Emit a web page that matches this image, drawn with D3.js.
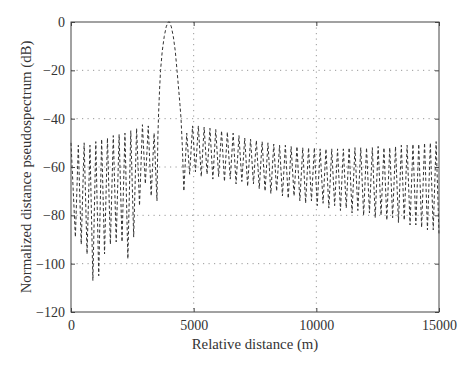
<!DOCTYPE html>
<html>
<head>
<meta charset="utf-8">
<script src="https://cdn.jsdelivr.net/npm/d3@7"></script>
<style>
  body { margin: 0; background: #fff; }
  svg { display: block; font-family: "Liberation Serif", "Times New Roman", serif; }
  .tick text { font-size: 14px; fill: #333; }
  .tick line { stroke: #444; }
  .grid line { stroke: #999; stroke-width: 1; stroke-dasharray: 1.2,4.3; }
  .frame { fill: none; stroke: #444; stroke-width: 1; }
  .trace { fill: none; stroke: #333; stroke-width: 1; stroke-dasharray: 3.2,2.4; }
  .axis-title { font-size: 14.8px; fill: #333; }
</style>
</head>
<body>
<div id="chart"></div>
<script>
// sidelobes left of the target (distance m, level dB), peaks and nulls in order
const leftDistance = [0, 179, 298, 417, 536, 654, 773, 892, 1011, 1130, 1249, 1367, 1486, 1605,
  1724, 1842, 1961, 2080, 2199, 2318, 2437, 2555, 2674, 2793, 2912, 3030, 3149, 3268, 3387];
const leftLevel = [-50, -89, -51, -92, -50, -96, -51, -107, -49.5, -105, -48.5, -96, -48, -92,
  -47, -91, -46.5, -91, -46, -98, -45, -89, -44, -76, -42.5, -67, -43, -72, -46];

// main lobe
const mainDistance = [3505, 3540, 3570, 3610, 3650, 3720, 3800, 3880, 3960, 4020, 4090, 4170,
  4250, 4321, 4390, 4440, 4485, 4540, 4600];
const mainLevel = [-74, -48, -38, -28, -20, -12, -6, -2, 0, 0, -2, -6,
  -12, -20, -28, -34, -40, -52, -70];

// sidelobes right of the target
const rightDistance = [4718, 4836, 4955, 5073, 5191, 5309, 5427, 5546, 5664, 5782, 5900, 6018,
  6137, 6255, 6373, 6491, 6609, 6728, 6846, 6964, 7082, 7200, 7319, 7437, 7555, 7673, 7791, 7910,
  8028, 8146, 8264, 8382, 8501, 8619, 8737, 8855, 8973, 9092, 9210, 9328, 9446, 9564, 9683, 9801,
  9919, 10037, 10155, 10274, 10392, 10510, 10628, 10746, 10865, 10983, 11101, 11219, 11337, 11456,
  11574, 11692, 11810, 11928, 12046, 12165, 12283, 12401, 12519, 12638, 12756, 12874, 12992, 13110,
  13228, 13347, 13465, 13583, 13701, 13820, 13938, 14056, 14174, 14292, 14411, 14529, 14647, 14765,
  14883, 15000];
const rightLevel = [-46, -63, -43, -62, -43, -64, -43.5, -63, -44, -65, -44.5, -64,
  -45, -66, -45.5, -65, -46, -67, -47, -66, -48, -68, -48.5, -67, -49, -69, -49.5, -70,
  -50, -71, -50.5, -70, -51, -72, -51, -73, -51.5, -72, -51.5, -74, -52, -75, -52, -74,
  -52, -76, -52.5, -75, -52.5, -77, -52.5, -76, -52.5, -78, -52.5, -77, -52, -79,
  -52, -78, -52, -80, -52, -79, -52, -81, -51.5, -80, -52, -82, -52, -81,
  -51.5, -83, -51, -82, -51, -84, -50.5, -84, -50.5, -85, -50, -86, -50, -86,
  -49.5, -88];

const xTicks = [0, 5000, 10000, 15000];
const yTicks = [0, -20, -40, -60, -80, -100, -120];

const width = 474;
const height = 368;
const margin = { top: 22, right: 35, bottom: 56, left: 71 };
const innerWidth = width - margin.left - margin.right;
const innerHeight = height - margin.top - margin.bottom;

const points = [
  ...leftDistance.map((d, i) => ({ x: d, y: leftLevel[i] })),
  ...mainDistance.map((d, i) => ({ x: d, y: mainLevel[i] })),
  ...rightDistance.map((d, i) => ({ x: d, y: rightLevel[i] }))
];

const svg = d3.select("#chart")
  .append("svg")
  .attr("width", width)
  .attr("height", height);

const g = svg.append("g").attr("transform", `translate(${margin.left},${margin.top})`);

const x = d3.scaleLinear().domain([0, 15000]).range([0, innerWidth]);
const y = d3.scaleLinear().domain([-120, 0]).range([innerHeight, 0]);

// dotted grid
g.append("g").attr("class", "grid")
  .selectAll("line")
  .data(xTicks.slice(1, -1))
  .join("line")
  .attr("x1", d => x(d)).attr("x2", d => x(d))
  .attr("y1", 0).attr("y2", innerHeight);

g.append("g").attr("class", "grid")
  .selectAll("line")
  .data(yTicks.slice(1, -1))
  .join("line")
  .attr("x1", 0).attr("x2", innerWidth)
  .attr("y1", d => y(d)).attr("y2", d => y(d));

// the trace
const line = d3.line().x(d => x(d.x)).y(d => y(d.y));
g.append("path").attr("class", "trace").attr("d", line(points));

// axes with inward ticks on all four sides
const bottomAxis = g.append("g")
  .attr("transform", `translate(0,${innerHeight})`)
  .call(d3.axisBottom(x).tickValues(xTicks).tickFormat(d3.format("d")).tickSize(-4).tickPadding(8));
const leftAxis = g.append("g")
  .call(d3.axisLeft(y).tickValues(yTicks).tickSize(-4).tickPadding(6));
const topAxis = g.append("g")
  .call(d3.axisTop(x).tickValues(xTicks).tickSize(-4));
const rightAxis = g.append("g")
  .attr("transform", `translate(${innerWidth},0)`)
  .call(d3.axisRight(y).tickValues(yTicks).tickSize(-4));

topAxis.selectAll("text").remove();
rightAxis.selectAll("text").remove();

[bottomAxis, leftAxis, topAxis, rightAxis].forEach(a => {
  a.select(".domain").remove();
  a.attr("font-family", null).attr("font-size", null);
});

g.append("rect").attr("class", "frame")
  .attr("x", 0).attr("y", 0)
  .attr("width", innerWidth).attr("height", innerHeight);

g.append("text")
  .attr("class", "axis-title")
  .attr("x", innerWidth / 2)
  .attr("y", innerHeight + 37)
  .attr("text-anchor", "middle")
  .text("Relative distance (m)");

g.append("text")
  .attr("class", "axis-title")
  .attr("transform", "rotate(-90)")
  .attr("x", -innerHeight / 2)
  .attr("y", -40)
  .attr("text-anchor", "middle")
  .text("Normalized distance pseudospectrum (dB)");
</script>
</body>
</html>
